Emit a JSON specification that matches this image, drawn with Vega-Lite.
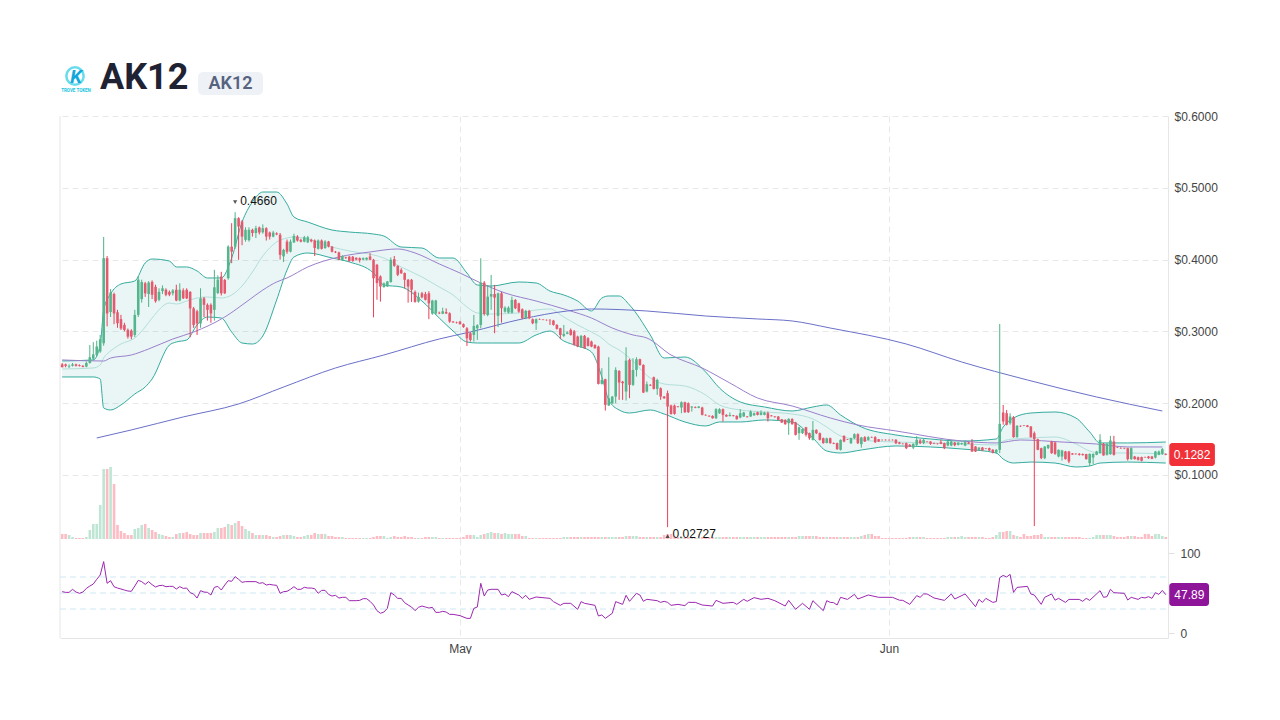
{
  "$schema": "https://vega.github.io/schema/vega-lite/v6.json",
  "background": "white",
  "padding": {"left": 59, "top": 50, "right": 0, "bottom": 0},
  "bounds": "flush",
  "spacing": 0,
  "config": {
    "view": {"stroke": null},
    "font": "Liberation Sans",
    "axis": {"gridColor": "#e8e8e8", "gridDash": [6, 4], "gridWidth": 1, "domainColor": "#e6e6e6", "labelColor": "#444444", "labelFontSize": 12, "labelFont": "Liberation Sans"}
  },
  "datasets": {
    "candles": [
      {"i":0,"o":0.254,"h":0.256,"l":0.25,"c":0.25,"v":5},{"i":1,"o":0.254,"h":0.255,"l":0.25,"c":0.252,"v":5},{"i":2,"o":0.251,"h":0.254,"l":0.249,"c":0.252,"v":4},{"i":3,"o":0.252,"h":0.256,"l":0.251,"c":0.254,"v":2},{"i":4,"o":0.254,"h":0.255,"l":0.251,"c":0.252,"v":1},{"i":5,"o":0.253,"h":0.254,"l":0.251,"c":0.252,"v":1},{"i":6,"o":0.252,"h":0.253,"l":0.25,"c":0.2505,"v":1},{"i":7,"o":0.251,"h":0.258,"l":0.25,"c":0.256,"v":2},{"i":8,"o":0.256,"h":0.281,"l":0.255,"c":0.264,"v":9},{"i":9,"o":0.262,"h":0.285,"l":0.26,"c":0.268,"v":15},
      {"i":10,"o":0.267,"h":0.287,"l":0.265,"c":0.279,"v":15},{"i":11,"o":0.272,"h":0.295,"l":0.27,"c":0.289,"v":34},{"i":12,"o":0.2834,"h":0.4315,"l":0.28,"c":0.402,"v":70},{"i":13,"o":0.402,"h":0.405,"l":0.307,"c":0.325,"v":70},{"i":14,"o":0.327,"h":0.359,"l":0.32,"c":0.354,"v":72},{"i":15,"o":0.352,"h":0.354,"l":0.31,"c":0.325,"v":55},{"i":16,"o":0.3266,"h":0.33,"l":0.305,"c":0.3113,"v":14},{"i":17,"o":0.317,"h":0.323,"l":0.302,"c":0.304,"v":8},{"i":18,"o":0.309,"h":0.312,"l":0.3,"c":0.302,"v":6},{"i":19,"o":0.302,"h":0.304,"l":0.29,"c":0.2927,"v":4},
      {"i":20,"o":0.3011,"h":0.303,"l":0.289,"c":0.2927,"v":4},{"i":21,"o":0.295,"h":0.33,"l":0.292,"c":0.323,"v":10},{"i":22,"o":0.323,"h":0.377,"l":0.32,"c":0.372,"v":11},{"i":23,"o":0.345,"h":0.372,"l":0.34,"c":0.3687,"v":14},{"i":24,"o":0.367,"h":0.369,"l":0.348,"c":0.353,"v":15},{"i":25,"o":0.352,"h":0.37,"l":0.334,"c":0.368,"v":11},{"i":26,"o":0.369,"h":0.371,"l":0.345,"c":0.351,"v":9},{"i":27,"o":0.362,"h":0.365,"l":0.34,"c":0.342,"v":7},{"i":28,"o":0.344,"h":0.36,"l":0.342,"c":0.355,"v":5},{"i":29,"o":0.356,"h":0.364,"l":0.352,"c":0.36,"v":4},
      {"i":30,"o":0.358,"h":0.36,"l":0.349,"c":0.351,"v":3},{"i":31,"o":0.355,"h":0.357,"l":0.349,"c":0.351,"v":2},{"i":32,"o":0.353,"h":0.359,"l":0.35,"c":0.357,"v":2},{"i":33,"o":0.358,"h":0.365,"l":0.342,"c":0.343,"v":5},{"i":34,"o":0.343,"h":0.367,"l":0.342,"c":0.358,"v":6},{"i":35,"o":0.357,"h":0.36,"l":0.345,"c":0.346,"v":6},{"i":36,"o":0.358,"h":0.36,"l":0.345,"c":0.346,"v":7},{"i":37,"o":0.355,"h":0.356,"l":0.2918,"c":0.332,"v":5},{"i":38,"o":0.332,"h":0.334,"l":0.305,"c":0.309,"v":4},{"i":39,"o":0.328,"h":0.33,"l":0.295,"c":0.311,"v":4},
      {"i":40,"o":0.311,"h":0.36,"l":0.305,"c":0.346,"v":6},{"i":41,"o":0.346,"h":0.348,"l":0.32,"c":0.337,"v":6},{"i":42,"o":0.337,"h":0.339,"l":0.315,"c":0.33,"v":6},{"i":43,"o":0.337,"h":0.339,"l":0.312,"c":0.325,"v":6},{"i":44,"o":0.33,"h":0.3858,"l":0.315,"c":0.3614,"v":7},{"i":45,"o":0.3534,"h":0.378,"l":0.352,"c":0.372,"v":11},{"i":46,"o":0.3765,"h":0.383,"l":0.35,"c":0.353,"v":11},{"i":47,"o":0.3716,"h":0.373,"l":0.352,"c":0.353,"v":12},{"i":48,"o":0.374,"h":0.42,"l":0.372,"c":0.418,"v":15},{"i":49,"o":0.418,"h":0.4507,"l":0.395,"c":0.411,"v":14},
      {"i":50,"o":0.418,"h":0.466,"l":0.415,"c":0.4577,"v":16},{"i":51,"o":0.4577,"h":0.459,"l":0.3997,"c":0.446,"v":18},{"i":52,"o":0.453,"h":0.455,"l":0.42,"c":0.432,"v":13},{"i":53,"o":0.4275,"h":0.445,"l":0.425,"c":0.4415,"v":10},{"i":54,"o":0.427,"h":0.445,"l":0.425,"c":0.4415,"v":8},{"i":55,"o":0.4415,"h":0.443,"l":0.432,"c":0.437,"v":6},{"i":56,"o":0.437,"h":0.447,"l":0.43,"c":0.4437,"v":4},{"i":57,"o":0.4447,"h":0.446,"l":0.435,"c":0.4377,"v":4},{"i":58,"o":0.438,"h":0.449,"l":0.436,"c":0.4437,"v":4},{"i":59,"o":0.4437,"h":0.445,"l":0.4265,"c":0.432,"v":4},
      {"i":60,"o":0.4377,"h":0.439,"l":0.428,"c":0.432,"v":3},{"i":61,"o":0.432,"h":0.44,"l":0.431,"c":0.4377,"v":2},{"i":62,"o":0.4365,"h":0.438,"l":0.434,"c":0.435,"v":2},{"i":63,"o":0.4345,"h":0.437,"l":0.4,"c":0.4066,"v":3},{"i":64,"o":0.4045,"h":0.415,"l":0.3965,"c":0.4135,"v":4},{"i":65,"o":0.425,"h":0.428,"l":0.408,"c":0.411,"v":4},{"i":66,"o":0.411,"h":0.428,"l":0.41,"c":0.425,"v":4},{"i":67,"o":0.424,"h":0.436,"l":0.423,"c":0.433,"v":3},{"i":68,"o":0.432,"h":0.434,"l":0.425,"c":0.4265,"v":2},{"i":69,"o":0.4275,"h":0.429,"l":0.424,"c":0.425,"v":2},
      {"i":70,"o":0.425,"h":0.433,"l":0.424,"c":0.431,"v":3},{"i":71,"o":0.424,"h":0.433,"l":0.423,"c":0.431,"v":4},{"i":72,"o":0.4275,"h":0.429,"l":0.424,"c":0.4255,"v":4},{"i":73,"o":0.4266,"h":0.428,"l":0.405,"c":0.416,"v":6},{"i":74,"o":0.415,"h":0.428,"l":0.414,"c":0.4266,"v":5},{"i":75,"o":0.4266,"h":0.428,"l":0.414,"c":0.415,"v":5},{"i":76,"o":0.416,"h":0.427,"l":0.415,"c":0.4252,"v":5},{"i":77,"o":0.4252,"h":0.426,"l":0.417,"c":0.418,"v":3},{"i":78,"o":0.418,"h":0.419,"l":0.41,"c":0.411,"v":3},{"i":79,"o":0.411,"h":0.412,"l":0.409,"c":0.41,"v":2},
      {"i":80,"o":0.41,"h":0.411,"l":0.399,"c":0.4005,"v":2},{"i":81,"o":0.3997,"h":0.406,"l":0.398,"c":0.405,"v":2},{"i":82,"o":0.403,"h":0.404,"l":0.401,"c":0.402,"v":1},{"i":83,"o":0.404,"h":0.405,"l":0.397,"c":0.398,"v":1},{"i":84,"o":0.404,"h":0.405,"l":0.397,"c":0.398,"v":1},{"i":85,"o":0.4025,"h":0.403,"l":0.399,"c":0.4,"v":1},{"i":86,"o":0.402,"h":0.403,"l":0.396,"c":0.399,"v":1},{"i":87,"o":0.4,"h":0.403,"l":0.399,"c":0.402,"v":1},{"i":88,"o":0.4,"h":0.403,"l":0.399,"c":0.4025,"v":1},{"i":89,"o":0.4043,"h":0.409,"l":0.399,"c":0.3997,"v":1},
      {"i":90,"o":0.3997,"h":0.401,"l":0.3196,"c":0.374,"v":2},{"i":91,"o":0.3927,"h":0.394,"l":0.344,"c":0.3672,"v":3},{"i":92,"o":0.3765,"h":0.378,"l":0.3414,"c":0.3625,"v":3},{"i":93,"o":0.3616,"h":0.368,"l":0.361,"c":0.367,"v":3},{"i":94,"o":0.3625,"h":0.37,"l":0.362,"c":0.3695,"v":1},{"i":95,"o":0.3686,"h":0.403,"l":0.368,"c":0.3997,"v":2},{"i":96,"o":0.4006,"h":0.405,"l":0.39,"c":0.3913,"v":3},{"i":97,"o":0.3913,"h":0.392,"l":0.377,"c":0.3788,"v":2},{"i":98,"o":0.3857,"h":0.388,"l":0.38,"c":0.381,"v":2},{"i":99,"o":0.3812,"h":0.382,"l":0.36,"c":0.3718,"v":3},
      {"i":100,"o":0.3718,"h":0.373,"l":0.34,"c":0.3625,"v":2},{"i":101,"o":0.3718,"h":0.373,"l":0.341,"c":0.358,"v":2},{"i":102,"o":0.355,"h":0.357,"l":0.34,"c":0.341,"v":1},{"i":103,"o":0.3414,"h":0.354,"l":0.34,"c":0.348,"v":1},{"i":104,"o":0.353,"h":0.355,"l":0.346,"c":0.3475,"v":1},{"i":105,"o":0.352,"h":0.355,"l":0.343,"c":0.344,"v":2},{"i":106,"o":0.353,"h":0.356,"l":0.317,"c":0.339,"v":2},{"i":107,"o":0.3247,"h":0.344,"l":0.323,"c":0.343,"v":2},{"i":108,"o":0.325,"h":0.344,"l":0.323,"c":0.343,"v":2},{"i":109,"o":0.326,"h":0.3275,"l":0.324,"c":0.325,"v":1},
      {"i":110,"o":0.3245,"h":0.333,"l":0.324,"c":0.328,"v":1},{"i":111,"o":0.327,"h":0.332,"l":0.324,"c":0.325,"v":1},{"i":112,"o":0.3252,"h":0.3265,"l":0.312,"c":0.3136,"v":1},{"i":113,"o":0.3136,"h":0.3145,"l":0.312,"c":0.3125,"v":1},{"i":114,"o":0.3125,"h":0.3135,"l":0.311,"c":0.312,"v":1},{"i":115,"o":0.3136,"h":0.3145,"l":0.3095,"c":0.31,"v":1},{"i":116,"o":0.31,"h":0.311,"l":0.305,"c":0.306,"v":2},{"i":117,"o":0.3043,"h":0.306,"l":0.2797,"c":0.2904,"v":4},{"i":118,"o":0.2974,"h":0.299,"l":0.2858,"c":0.2881,"v":4},{"i":119,"o":0.2951,"h":0.3229,"l":0.2858,"c":0.3076,"v":4},
      {"i":120,"o":0.3043,"h":0.31,"l":0.2881,"c":0.3085,"v":2},{"i":121,"o":0.309,"h":0.4018,"l":0.3043,"c":0.3679,"v":4},{"i":122,"o":0.3679,"h":0.37,"l":0.322,"c":0.3243,"v":5},{"i":123,"o":0.3229,"h":0.3647,"l":0.321,"c":0.3484,"v":6},{"i":124,"o":0.3484,"h":0.3786,"l":0.33,"c":0.352,"v":7},{"i":125,"o":0.352,"h":0.3647,"l":0.2974,"c":0.347,"v":6},{"i":126,"o":0.3215,"h":0.354,"l":0.306,"c":0.353,"v":6},{"i":127,"o":0.353,"h":0.355,"l":0.3122,"c":0.3322,"v":5},{"i":128,"o":0.3275,"h":0.335,"l":0.326,"c":0.333,"v":6},{"i":129,"o":0.3262,"h":0.335,"l":0.325,"c":0.333,"v":5},
      {"i":130,"o":0.326,"h":0.3484,"l":0.325,"c":0.3438,"v":5},{"i":131,"o":0.3438,"h":0.345,"l":0.331,"c":0.3322,"v":5},{"i":132,"o":0.339,"h":0.34,"l":0.326,"c":0.3275,"v":5},{"i":133,"o":0.3308,"h":0.332,"l":0.317,"c":0.3183,"v":3},{"i":134,"o":0.3183,"h":0.33,"l":0.317,"c":0.3285,"v":3},{"i":135,"o":0.3285,"h":0.33,"l":0.317,"c":0.3183,"v":1},{"i":136,"o":0.3169,"h":0.318,"l":0.31,"c":0.3113,"v":1},{"i":137,"o":0.3113,"h":0.318,"l":0.302,"c":0.3169,"v":1},{"i":138,"o":0.317,"h":0.318,"l":0.316,"c":0.3165,"v":1},{"i":139,"o":0.3165,"h":0.317,"l":0.3155,"c":0.316,"v":1},
      {"i":140,"o":0.316,"h":0.3165,"l":0.315,"c":0.3155,"v":1},{"i":141,"o":0.316,"h":0.317,"l":0.309,"c":0.3155,"v":1},{"i":142,"o":0.315,"h":0.316,"l":0.308,"c":0.309,"v":1},{"i":143,"o":0.309,"h":0.31,"l":0.3025,"c":0.3035,"v":1},{"i":144,"o":0.3043,"h":0.305,"l":0.289,"c":0.295,"v":1},{"i":145,"o":0.2937,"h":0.309,"l":0.292,"c":0.2965,"v":2},{"i":146,"o":0.2965,"h":0.3,"l":0.296,"c":0.2985,"v":2},{"i":147,"o":0.302,"h":0.304,"l":0.294,"c":0.295,"v":2},{"i":148,"o":0.3,"h":0.302,"l":0.28,"c":0.2811,"v":2},{"i":149,"o":0.2928,"h":0.294,"l":0.278,"c":0.2788,"v":2},
      {"i":150,"o":0.2779,"h":0.295,"l":0.277,"c":0.2937,"v":2},{"i":151,"o":0.2937,"h":0.295,"l":0.276,"c":0.2765,"v":2},{"i":152,"o":0.2904,"h":0.292,"l":0.279,"c":0.2797,"v":2},{"i":153,"o":0.2858,"h":0.287,"l":0.278,"c":0.2788,"v":2},{"i":154,"o":0.2811,"h":0.282,"l":0.276,"c":0.2765,"v":2},{"i":155,"o":0.2788,"h":0.28,"l":0.226,"c":0.2269,"v":2},{"i":156,"o":0.2269,"h":0.2487,"l":0.226,"c":0.2324,"v":2},{"i":157,"o":0.2333,"h":0.234,"l":0.1897,"c":0.1976,"v":2},{"i":158,"o":0.1967,"h":0.264,"l":0.196,"c":0.2069,"v":2},{"i":159,"o":0.1999,"h":0.21,"l":0.199,"c":0.2092,"v":2},
      {"i":160,"o":0.2092,"h":0.25,"l":0.2,"c":0.2463,"v":2},{"i":161,"o":0.2449,"h":0.246,"l":0.2046,"c":0.2287,"v":2},{"i":162,"o":0.23,"h":0.231,"l":0.2046,"c":0.2278,"v":2},{"i":163,"o":0.2162,"h":0.2779,"l":0.2037,"c":0.2593,"v":3},{"i":164,"o":0.2603,"h":0.262,"l":0.2069,"c":0.2255,"v":3},{"i":165,"o":0.2255,"h":0.2626,"l":0.224,"c":0.2463,"v":3},{"i":166,"o":0.2463,"h":0.264,"l":0.2371,"c":0.2612,"v":3},{"i":167,"o":0.2612,"h":0.262,"l":0.252,"c":0.2533,"v":2},{"i":168,"o":0.2533,"h":0.254,"l":0.214,"c":0.2148,"v":2},{"i":169,"o":0.2162,"h":0.2302,"l":0.215,"c":0.2264,"v":2},
      {"i":170,"o":0.2255,"h":0.2265,"l":0.224,"c":0.2245,"v":2},{"i":171,"o":0.2361,"h":0.237,"l":0.219,"c":0.2199,"v":2},{"i":172,"o":0.2199,"h":0.234,"l":0.2115,"c":0.2324,"v":2},{"i":173,"o":0.2208,"h":0.222,"l":0.2046,"c":0.2092,"v":2},{"i":174,"o":0.2092,"h":0.21,"l":0.206,"c":0.2069,"v":4},{"i":175,"o":0.2139,"h":0.2176,"l":0.02727,"c":0.1953,"v":5},{"i":176,"o":0.1967,"h":0.198,"l":0.184,"c":0.185,"v":5},{"i":177,"o":0.1967,"h":0.198,"l":0.184,"c":0.1851,"v":3},{"i":178,"o":0.1955,"h":0.196,"l":0.194,"c":0.1948,"v":2},{"i":179,"o":0.1939,"h":0.2025,"l":0.186,"c":0.2013,"v":2},
      {"i":180,"o":0.2013,"h":0.202,"l":0.1865,"c":0.1874,"v":2},{"i":181,"o":0.2,"h":0.201,"l":0.1865,"c":0.1874,"v":2},{"i":182,"o":0.1939,"h":0.196,"l":0.1883,"c":0.1953,"v":2},{"i":183,"o":0.1945,"h":0.1955,"l":0.193,"c":0.1935,"v":1},{"i":184,"o":0.1935,"h":0.196,"l":0.193,"c":0.1953,"v":1},{"i":185,"o":0.1939,"h":0.195,"l":0.183,"c":0.1837,"v":2},{"i":186,"o":0.1837,"h":0.1845,"l":0.1825,"c":0.183,"v":2},{"i":187,"o":0.1825,"h":0.183,"l":0.181,"c":0.1815,"v":2},{"i":188,"o":0.1823,"h":0.183,"l":0.1785,"c":0.179,"v":2},{"i":189,"o":0.179,"h":0.193,"l":0.178,"c":0.1916,"v":2},
      {"i":190,"o":0.186,"h":0.193,"l":0.185,"c":0.1916,"v":2},{"i":191,"o":0.1916,"h":0.1925,"l":0.1744,"c":0.1837,"v":2},{"i":192,"o":0.1837,"h":0.1845,"l":0.181,"c":0.1814,"v":2},{"i":193,"o":0.182,"h":0.187,"l":0.1815,"c":0.1835,"v":2},{"i":194,"o":0.183,"h":0.1835,"l":0.1815,"c":0.182,"v":2},{"i":195,"o":0.1823,"h":0.183,"l":0.177,"c":0.1777,"v":2},{"i":196,"o":0.18,"h":0.1916,"l":0.179,"c":0.186,"v":2},{"i":197,"o":0.1814,"h":0.188,"l":0.181,"c":0.187,"v":2},{"i":198,"o":0.1814,"h":0.182,"l":0.18,"c":0.1805,"v":2},{"i":199,"o":0.1814,"h":0.19,"l":0.181,"c":0.1883,"v":2},
      {"i":200,"o":0.183,"h":0.187,"l":0.1825,"c":0.186,"v":2},{"i":201,"o":0.1874,"h":0.188,"l":0.183,"c":0.1837,"v":2},{"i":202,"o":0.1837,"h":0.19,"l":0.183,"c":0.187,"v":2},{"i":203,"o":0.1837,"h":0.188,"l":0.183,"c":0.187,"v":2},{"i":204,"o":0.186,"h":0.1883,"l":0.1744,"c":0.179,"v":2},{"i":205,"o":0.1828,"h":0.1835,"l":0.1815,"c":0.1818,"v":2},{"i":206,"o":0.1815,"h":0.182,"l":0.18,"c":0.1805,"v":2},{"i":207,"o":0.1814,"h":0.182,"l":0.176,"c":0.1767,"v":2},{"i":208,"o":0.1775,"h":0.178,"l":0.1725,"c":0.173,"v":2},{"i":209,"o":0.1767,"h":0.1775,"l":0.17,"c":0.1707,"v":2},
      {"i":210,"o":0.1721,"h":0.179,"l":0.1559,"c":0.1781,"v":2},{"i":211,"o":0.178,"h":0.179,"l":0.17,"c":0.1707,"v":2},{"i":212,"o":0.173,"h":0.174,"l":0.155,"c":0.1559,"v":2},{"i":213,"o":0.1582,"h":0.1675,"l":0.1489,"c":0.1665,"v":3},{"i":214,"o":0.1582,"h":0.165,"l":0.157,"c":0.1642,"v":3},{"i":215,"o":0.1665,"h":0.167,"l":0.1535,"c":0.1559,"v":3},{"i":216,"o":0.1582,"h":0.159,"l":0.149,"c":0.1512,"v":3},{"i":217,"o":0.1489,"h":0.1753,"l":0.148,"c":0.1628,"v":3},{"i":218,"o":0.1628,"h":0.1635,"l":0.157,"c":0.1582,"v":3},{"i":219,"o":0.1582,"h":0.159,"l":0.148,"c":0.1489,"v":2},
      {"i":220,"o":0.1512,"h":0.152,"l":0.1435,"c":0.1443,"v":2},{"i":221,"o":0.1445,"h":0.152,"l":0.144,"c":0.151,"v":2},{"i":222,"o":0.1512,"h":0.152,"l":0.1435,"c":0.1443,"v":2},{"i":223,"o":0.1445,"h":0.1452,"l":0.143,"c":0.1435,"v":2},{"i":224,"o":0.1443,"h":0.145,"l":0.135,"c":0.1359,"v":2},{"i":225,"o":0.135,"h":0.1495,"l":0.134,"c":0.1489,"v":2},{"i":226,"o":0.1545,"h":0.155,"l":0.1455,"c":0.1466,"v":2},{"i":227,"o":0.1498,"h":0.15,"l":0.1488,"c":0.1492,"v":2},{"i":228,"o":0.1443,"h":0.152,"l":0.143,"c":0.1512,"v":2},{"i":229,"o":0.1512,"h":0.158,"l":0.15,"c":0.1568,"v":2},
      {"i":230,"o":0.1568,"h":0.158,"l":0.143,"c":0.1443,"v":2},{"i":231,"o":0.1429,"h":0.153,"l":0.138,"c":0.1522,"v":3},{"i":232,"o":0.1526,"h":0.154,"l":0.146,"c":0.1466,"v":4},{"i":233,"o":0.1489,"h":0.154,"l":0.148,"c":0.1526,"v":5},{"i":234,"o":0.1525,"h":0.1535,"l":0.1515,"c":0.152,"v":5},{"i":235,"o":0.1526,"h":0.154,"l":0.1445,"c":0.1457,"v":3},{"i":236,"o":0.1498,"h":0.15,"l":0.146,"c":0.1466,"v":3},{"i":237,"o":0.1489,"h":0.1495,"l":0.148,"c":0.1485,"v":1},{"i":238,"o":0.149,"h":0.1495,"l":0.148,"c":0.1484,"v":1},{"i":239,"o":0.1488,"h":0.1495,"l":0.148,"c":0.1483,"v":1},
      {"i":240,"o":0.149,"h":0.1495,"l":0.148,"c":0.1484,"v":1},{"i":241,"o":0.1489,"h":0.15,"l":0.143,"c":0.1443,"v":1},{"i":242,"o":0.1452,"h":0.146,"l":0.1428,"c":0.1434,"v":1},{"i":243,"o":0.1436,"h":0.144,"l":0.1425,"c":0.143,"v":1},{"i":244,"o":0.1443,"h":0.145,"l":0.136,"c":0.1373,"v":1},{"i":245,"o":0.142,"h":0.143,"l":0.139,"c":0.1396,"v":2},{"i":246,"o":0.1382,"h":0.144,"l":0.136,"c":0.1434,"v":2},{"i":247,"o":0.142,"h":0.154,"l":0.14,"c":0.1489,"v":2},{"i":248,"o":0.148,"h":0.15,"l":0.143,"c":0.1443,"v":2},{"i":249,"o":0.1443,"h":0.15,"l":0.143,"c":0.1489,"v":2},
      {"i":250,"o":0.1466,"h":0.147,"l":0.1455,"c":0.146,"v":1},{"i":251,"o":0.1466,"h":0.147,"l":0.142,"c":0.1434,"v":1},{"i":252,"o":0.1443,"h":0.145,"l":0.143,"c":0.1436,"v":1},{"i":253,"o":0.1436,"h":0.144,"l":0.1425,"c":0.143,"v":1},{"i":254,"o":0.1457,"h":0.149,"l":0.143,"c":0.1434,"v":1},{"i":255,"o":0.1443,"h":0.145,"l":0.136,"c":0.1373,"v":1},{"i":256,"o":0.141,"h":0.1475,"l":0.14,"c":0.1466,"v":2},{"i":257,"o":0.141,"h":0.1475,"l":0.14,"c":0.1466,"v":2},{"i":258,"o":0.1452,"h":0.146,"l":0.14,"c":0.1415,"v":2},{"i":259,"o":0.142,"h":0.1455,"l":0.141,"c":0.1452,"v":2},
      {"i":260,"o":0.1429,"h":0.145,"l":0.142,"c":0.1443,"v":3},{"i":261,"o":0.141,"h":0.148,"l":0.14,"c":0.1457,"v":2},{"i":262,"o":0.1452,"h":0.146,"l":0.143,"c":0.1434,"v":2},{"i":263,"o":0.1443,"h":0.15,"l":0.132,"c":0.1327,"v":2},{"i":264,"o":0.1396,"h":0.14,"l":0.132,"c":0.1327,"v":2},{"i":265,"o":0.135,"h":0.1385,"l":0.134,"c":0.1382,"v":2},{"i":266,"o":0.1382,"h":0.139,"l":0.134,"c":0.1341,"v":2},{"i":267,"o":0.137,"h":0.1375,"l":0.136,"c":0.1365,"v":1},{"i":268,"o":0.1373,"h":0.138,"l":0.1335,"c":0.1341,"v":1},{"i":269,"o":0.135,"h":0.136,"l":0.13,"c":0.1313,"v":2},
      {"i":270,"o":0.1313,"h":0.136,"l":0.1295,"c":0.135,"v":4},{"i":271,"o":0.135,"h":0.3104,"l":0.1304,"c":0.1712,"v":7},{"i":272,"o":0.187,"h":0.1975,"l":0.17,"c":0.1745,"v":7},{"i":273,"o":0.186,"h":0.1905,"l":0.169,"c":0.17,"v":8},{"i":274,"o":0.1721,"h":0.186,"l":0.17,"c":0.1814,"v":8},{"i":275,"o":0.1805,"h":0.182,"l":0.152,"c":0.1526,"v":4},{"i":276,"o":0.1526,"h":0.1695,"l":0.152,"c":0.1684,"v":3},{"i":277,"o":0.1684,"h":0.169,"l":0.167,"c":0.1676,"v":2},{"i":278,"o":0.169,"h":0.1695,"l":0.168,"c":0.1685,"v":5},{"i":279,"o":0.169,"h":0.1695,"l":0.1665,"c":0.167,"v":3},
      {"i":280,"o":0.1675,"h":0.168,"l":0.152,"c":0.1526,"v":3},{"i":281,"o":0.1582,"h":0.1605,"l":0.0288,"c":0.1498,"v":4},{"i":282,"o":0.1498,"h":0.1505,"l":0.1345,"c":0.135,"v":4},{"i":283,"o":0.1373,"h":0.138,"l":0.122,"c":0.1234,"v":5},{"i":284,"o":0.1234,"h":0.14,"l":0.122,"c":0.1396,"v":2},{"i":285,"o":0.1373,"h":0.142,"l":0.136,"c":0.142,"v":2},{"i":286,"o":0.1466,"h":0.1475,"l":0.1295,"c":0.1304,"v":2},{"i":287,"o":0.1452,"h":0.146,"l":0.128,"c":0.1294,"v":2},{"i":288,"o":0.1257,"h":0.1355,"l":0.1245,"c":0.135,"v":2},{"i":289,"o":0.1257,"h":0.135,"l":0.12,"c":0.1341,"v":2},
      {"i":290,"o":0.1327,"h":0.1335,"l":0.1215,"c":0.122,"v":2},{"i":291,"o":0.1327,"h":0.1335,"l":0.1165,"c":0.1188,"v":2},{"i":292,"o":0.13,"h":0.1305,"l":0.128,"c":0.1285,"v":2},{"i":293,"o":0.1296,"h":0.13,"l":0.1285,"c":0.1288,"v":2},{"i":294,"o":0.1294,"h":0.1305,"l":0.127,"c":0.128,"v":2},{"i":295,"o":0.129,"h":0.13,"l":0.127,"c":0.1276,"v":1},{"i":296,"o":0.129,"h":0.1295,"l":0.1215,"c":0.122,"v":1},{"i":297,"o":0.1165,"h":0.13,"l":0.1125,"c":0.1294,"v":1},{"i":298,"o":0.1243,"h":0.13,"l":0.115,"c":0.1294,"v":2},{"i":299,"o":0.128,"h":0.1335,"l":0.1275,"c":0.1327,"v":4},
      {"i":300,"o":0.1304,"h":0.1568,"l":0.13,"c":0.1489,"v":4},{"i":301,"o":0.1434,"h":0.1445,"l":0.127,"c":0.1271,"v":4},{"i":302,"o":0.128,"h":0.144,"l":0.127,"c":0.1434,"v":4},{"i":303,"o":0.129,"h":0.1545,"l":0.128,"c":0.148,"v":4},{"i":304,"o":0.1466,"h":0.1545,"l":0.127,"c":0.128,"v":3},{"i":305,"o":0.1385,"h":0.139,"l":0.1375,"c":0.138,"v":2},{"i":306,"o":0.1376,"h":0.1385,"l":0.1365,"c":0.137,"v":2},{"i":307,"o":0.1373,"h":0.138,"l":0.136,"c":0.1368,"v":2},{"i":308,"o":0.1373,"h":0.138,"l":0.12,"c":0.122,"v":3},{"i":309,"o":0.122,"h":0.1385,"l":0.121,"c":0.1373,"v":3},
      {"i":310,"o":0.1257,"h":0.1265,"l":0.1215,"c":0.122,"v":3},{"i":311,"o":0.1248,"h":0.1255,"l":0.12,"c":0.1211,"v":2},{"i":312,"o":0.1248,"h":0.1255,"l":0.119,"c":0.1197,"v":2},{"i":313,"o":0.1248,"h":0.1255,"l":0.124,"c":0.1243,"v":5},{"i":314,"o":0.1257,"h":0.1265,"l":0.1225,"c":0.1234,"v":5},{"i":315,"o":0.1257,"h":0.1265,"l":0.122,"c":0.1225,"v":3},{"i":316,"o":0.1243,"h":0.1335,"l":0.123,"c":0.1327,"v":5},{"i":317,"o":0.128,"h":0.134,"l":0.1275,"c":0.1327,"v":5},{"i":318,"o":0.1294,"h":0.1375,"l":0.128,"c":0.1359,"v":3},{"i":319,"o":0.1294,"h":0.13,"l":0.1275,"c":0.1282,"v":2}
    ],
    "bands": [
      {"i":0,"u":0.2588,"m":0.2476,"d":0.2365},{"i":9,"u":0.2602,"m":0.249,"d":0.2365},{"i":11,"u":0.281,"m":0.2532,"d":0.2337},{"i":12,"u":0.3298,"m":0.2629,"d":0.1933},{"i":14,"u":0.3521,"m":0.2727,"d":0.1905},{"i":17,"u":0.366,"m":0.2824,"d":0.1975},{"i":21,"u":0.3702,"m":0.2908,"d":0.2128},{"i":24,"u":0.3953,"m":0.3061,"d":0.2225},{"i":26,"u":0.4008,"m":0.3186,"d":0.2337},{"i":31,"u":0.398,"m":0.3395,"d":0.281},{"i":33,"u":0.3897,"m":0.3381,"d":0.2852},{"i":36,"u":0.3897,"m":0.3423,"d":0.288},{"i":39,"u":0.3841,"m":0.3465,"d":0.3089},{"i":42,"u":0.3744,"m":0.3479,"d":0.32},{"i":46,"u":0.3744,"m":0.3465,"d":0.3186},{"i":49,"u":0.4022,"m":0.3507,"d":0.2991},{"i":52,"u":0.4523,"m":0.3632,"d":0.2838},{"i":55,"u":0.4802,"m":0.3827,"d":0.2824},{"i":58,"u":0.4941,"m":0.405,"d":0.2936},{"i":62,"u":0.4941,"m":0.4245,"d":0.3437},{"i":65,"u":0.4774,"m":0.4301,"d":0.3855},{"i":67,"u":0.4593,"m":0.4315,"d":0.4036},{"i":71,"u":0.4523,"m":0.4287,"d":0.4092},{"i":78,"u":0.4412,"m":0.4175,"d":0.4022},{"i":83,"u":0.4384,"m":0.412,"d":0.3967},{"i":90,"u":0.4356,"m":0.4064,"d":0.3813},{"i":93,"u":0.4328,"m":0.4022,"d":0.3646},{"i":98,"u":0.4175,"m":0.3897,"d":0.3618},{"i":104,"u":0.4161,"m":0.3758,"d":0.3423},{"i":109,"u":0.4022,"m":0.3618,"d":0.3186},{"i":113,"u":0.4022,"m":0.3507,"d":0.3005},{"i":117,"u":0.3813,"m":0.334,"d":0.2852},{"i":120,"u":0.3646,"m":0.3256,"d":0.2838},{"i":124,"u":0.3632,"m":0.3242,"d":0.2838},{"i":132,"u":0.3688,"m":0.3256,"d":0.2838},{"i":137,"u":0.3674,"m":0.3298,"d":0.295},{"i":141,"u":0.3562,"m":0.3312,"d":0.3005},{"i":145,"u":0.3507,"m":0.32,"d":0.2866},{"i":149,"u":0.3423,"m":0.3089,"d":0.2797},{"i":153,"u":0.3284,"m":0.2991,"d":0.2713},{"i":156,"u":0.3465,"m":0.2908,"d":0.2365},{"i":158,"u":0.3493,"m":0.2824,"d":0.2044},{"i":161,"u":0.3493,"m":0.2741,"d":0.1905},{"i":164,"u":0.3367,"m":0.2629,"d":0.1863},{"i":170,"u":0.295,"m":0.2351,"d":0.1905},{"i":174,"u":0.2629,"m":0.2267,"d":0.1849},{"i":180,"u":0.2643,"m":0.2239,"d":0.1738},{"i":186,"u":0.2434,"m":0.2114,"d":0.1682},{"i":190,"u":0.2211,"m":0.1975,"d":0.1738},{"i":196,"u":0.2017,"m":0.1905,"d":0.1738},{"i":203,"u":0.1947,"m":0.1877,"d":0.1766},{"i":211,"u":0.1891,"m":0.1849,"d":0.1738},{"i":217,"u":0.1947,"m":0.178,"d":0.1515},{"i":221,"u":0.1975,"m":0.1668,"d":0.1334},{"i":225,"u":0.1836,"m":0.1543,"d":0.1306},{"i":231,"u":0.1668,"m":0.1487,"d":0.1348},{"i":241,"u":0.1557,"m":0.1459,"d":0.1404},{"i":251,"u":0.1501,"m":0.1446,"d":0.139},{"i":260,"u":0.1473,"m":0.1432,"d":0.1362},{"i":270,"u":0.1501,"m":0.1418,"d":0.1306},{"i":272,"u":0.1668,"m":0.1473,"d":0.1222},{"i":275,"u":0.1794,"m":0.1501,"d":0.1166},{"i":280,"u":0.1863,"m":0.1515,"d":0.118},{"i":287,"u":0.1877,"m":0.1529,"d":0.1166},{"i":293,"u":0.1794,"m":0.1432,"d":0.1111},{"i":297,"u":0.1599,"m":0.1334,"d":0.1125},{"i":300,"u":0.1446,"m":0.1306,"d":0.1166},{"i":308,"u":0.1446,"m":0.1306,"d":0.118},{"i":319,"u":0.1459,"m":0.1292,"d":0.1166}
    ],
    "ma50": [
      {"i":0,"v":0.2602},{"i":12,"v":0.2587},{"i":14,"v":0.2629},{"i":20,"v":0.2671},{"i":25,"v":0.2755},{"i":32,"v":0.2894},{"i":38,"v":0.2991},{"i":47,"v":0.32},{"i":54,"v":0.3437},{"i":58,"v":0.3576},{"i":62,"v":0.3688},{"i":65,"v":0.3744},{"i":71,"v":0.3897},{"i":80,"v":0.4036},{"i":89,"v":0.4106},{"i":97,"v":0.4148},{"i":102,"v":0.4092},{"i":109,"v":0.3939},{"i":115,"v":0.3813},{"i":121,"v":0.3674},{"i":128,"v":0.3535},{"i":137,"v":0.3423},{"i":146,"v":0.3298},{"i":153,"v":0.3186},{"i":159,"v":0.3047},{"i":165,"v":0.295},{"i":169,"v":0.2908},{"i":176,"v":0.2671},{"i":185,"v":0.249},{"i":193,"v":0.2281},{"i":201,"v":0.2072},{"i":211,"v":0.1961},{"i":222,"v":0.1794},{"i":230,"v":0.1696},{"i":241,"v":0.1613},{"i":260,"v":0.1473},{"i":270,"v":0.1446},{"i":277,"v":0.1487},{"i":289,"v":0.1459},{"i":299,"v":0.1431},{"i":308,"v":0.139},{"i":318,"v":0.139}
    ],
    "ma200": [
      {"i":10,"v":0.1515},{"i":20,"v":0.1627},{"i":35,"v":0.1808},{"i":51,"v":0.1989},{"i":64,"v":0.2225},{"i":79,"v":0.249},{"i":93,"v":0.2671},{"i":109,"v":0.2894},{"i":118,"v":0.2992},{"i":133,"v":0.3173},{"i":146,"v":0.3284},{"i":153,"v":0.3312},{"i":169,"v":0.3284},{"i":186,"v":0.3214},{"i":201,"v":0.3173},{"i":211,"v":0.3145},{"i":222,"v":0.3047},{"i":244,"v":0.2824},{"i":260,"v":0.2574},{"i":279,"v":0.2323},{"i":299,"v":0.2086},{"i":318,"v":0.1891}
    ],
    "rsi": [
      {"i":0,"r":51.7},{"i":1,"r":50.8},{"i":2,"r":50.8},{"i":3,"r":54.6},{"i":4,"r":51.2},{"i":5,"r":49.6},{"i":6,"r":51.2},{"i":7,"r":55.8},{"i":8,"r":58.7},{"i":9,"r":61.2},{"i":10,"r":67.1},{"i":11,"r":72.5},{"i":12,"r":89.2},{"i":13,"r":62.1},{"i":14,"r":65.4},{"i":15,"r":57.9},{"i":16,"r":56.2},{"i":17,"r":55},{"i":18,"r":53.7},{"i":19,"r":52.5},{"i":20,"r":52.1},{"i":21,"r":58.7},{"i":22,"r":65.8},{"i":23,"r":64.2},{"i":24,"r":60.8},{"i":25,"r":64.2},{"i":26,"r":60.4},{"i":27,"r":57.5},{"i":28,"r":59.2},{"i":29,"r":59.6},{"i":30,"r":57.9},{"i":31,"r":58.3},{"i":32,"r":58.3},{"i":33,"r":55},{"i":34,"r":57.9},{"i":35,"r":55.8},{"i":36,"r":56.2},{"i":37,"r":50.4},{"i":38,"r":48.7},{"i":39,"r":43.7},{"i":40,"r":52.9},{"i":41,"r":51.2},{"i":42,"r":50.8},{"i":43,"r":47.5},{"i":44,"r":57.1},{"i":45,"r":58.3},{"i":46,"r":53.7},{"i":47,"r":60},{"i":48,"r":65.4},{"i":49,"r":64.6},{"i":50,"r":70.4},{"i":51,"r":67.1},{"i":52,"r":63.3},{"i":53,"r":64.2},{"i":56,"r":64.2},{"i":57,"r":62.1},{"i":58,"r":62.9},{"i":59,"r":60},{"i":60,"r":60.8},{"i":61,"r":60},{"i":62,"r":59.6},{"i":63,"r":49.6},{"i":64,"r":51.7},{"i":65,"r":52.1},{"i":66,"r":54.6},{"i":67,"r":57.9},{"i":68,"r":54.6},{"i":69,"r":54.6},{"i":70,"r":57.1},{"i":71,"r":56.2},{"i":72,"r":56.2},{"i":73,"r":55.4},{"i":74,"r":49.6},{"i":75,"r":53.3},{"i":76,"r":53.3},{"i":77,"r":48.3},{"i":78,"r":46.2},{"i":79,"r":47.1},{"i":80,"r":43.7},{"i":81,"r":44.6},{"i":82,"r":44.6},{"i":83,"r":40.4},{"i":85,"r":40.4},{"i":86,"r":40.8},{"i":87,"r":42.9},{"i":88,"r":42.9},{"i":89,"r":39.6},{"i":90,"r":35},{"i":91,"r":27.9},{"i":92,"r":24.6},{"i":93,"r":26.2},{"i":94,"r":30.8},{"i":95,"r":50.4},{"i":96,"r":47.5},{"i":97,"r":43.3},{"i":98,"r":43.3},{"i":99,"r":37.9},{"i":100,"r":35},{"i":101,"r":32.5},{"i":102,"r":27.9},{"i":103,"r":32.1},{"i":104,"r":33.7},{"i":105,"r":32.5},{"i":106,"r":31.2},{"i":107,"r":32.1},{"i":108,"r":25.8},{"i":109,"r":25.8},{"i":110,"r":27.1},{"i":111,"r":26.2},{"i":112,"r":23.3},{"i":113,"r":23.3},{"i":115,"r":21.7},{"i":117,"r":18.3},{"i":118,"r":18.3},{"i":119,"r":30.8},{"i":120,"r":32.5},{"i":121,"r":62.1},{"i":122,"r":46.2},{"i":123,"r":53.7},{"i":124,"r":54.6},{"i":126,"r":54.6},{"i":127,"r":47.5},{"i":128,"r":48.7},{"i":129,"r":45.4},{"i":130,"r":51.7},{"i":132,"r":47.5},{"i":133,"r":43.3},{"i":134,"r":47.1},{"i":135,"r":42.1},{"i":137,"r":45},{"i":141,"r":43.3},{"i":142,"r":39.2},{"i":144,"r":34.6},{"i":145,"r":37.1},{"i":147,"r":37.1},{"i":149,"r":29.6},{"i":150,"r":39.2},{"i":151,"r":37.1},{"i":154,"r":34.6},{"i":155,"r":21.3},{"i":156,"r":22.5},{"i":157,"r":18.3},{"i":159,"r":24.6},{"i":160,"r":39.2},{"i":162,"r":35.8},{"i":163,"r":47.1},{"i":164,"r":39.6},{"i":166,"r":49.6},{"i":167,"r":47.5},{"i":168,"r":39.6},{"i":169,"r":42.1},{"i":172,"r":40.4},{"i":173,"r":38.3},{"i":174,"r":39.6},{"i":175,"r":38.3},{"i":176,"r":34.6},{"i":178,"r":35.8},{"i":180,"r":34.2},{"i":181,"r":38.3},{"i":183,"r":38.3},{"i":185,"r":35},{"i":188,"r":33.7},{"i":189,"r":40.8},{"i":191,"r":37.1},{"i":194,"r":38.3},{"i":195,"r":35.8},{"i":197,"r":42.1},{"i":198,"r":39.6},{"i":200,"r":44.2},{"i":202,"r":42.1},{"i":204,"r":43.3},{"i":206,"r":40.4},{"i":209,"r":33.7},{"i":210,"r":40.8},{"i":212,"r":29.6},{"i":214,"r":37.1},{"i":216,"r":29.6},{"i":217,"r":40.4},{"i":220,"r":27.9},{"i":221,"r":40.4},{"i":222,"r":38.3},{"i":223,"r":37.9},{"i":224,"r":35},{"i":225,"r":44.6},{"i":227,"r":42},{"i":229,"r":48.3},{"i":230,"r":42.5},{"i":233,"r":47.5},{"i":236,"r":44.6},{"i":240,"r":44.6},{"i":242,"r":41},{"i":243,"r":40.8},{"i":245,"r":35.8},{"i":247,"r":46.7},{"i":248,"r":44.6},{"i":249,"r":48.8},{"i":250,"r":48.8},{"i":252,"r":43.8},{"i":255,"r":40.8},{"i":257,"r":48.8},{"i":258,"r":42.5},{"i":261,"r":48.8},{"i":264,"r":32.9},{"i":265,"r":42},{"i":266,"r":38.3},{"i":267,"r":43.3},{"i":269,"r":38.3},{"i":270,"r":39.2},{"i":271,"r":69.2},{"i":272,"r":72},{"i":273,"r":70},{"i":274,"r":73.3},{"i":275,"r":50.8},{"i":276,"r":57},{"i":279,"r":58.3},{"i":280,"r":48.8},{"i":281,"r":47.5},{"i":283,"r":35.8},{"i":284,"r":44.6},{"i":286,"r":48.8},{"i":287,"r":41},{"i":288,"r":43.3},{"i":290,"r":38.3},{"i":291,"r":42},{"i":294,"r":42},{"i":295,"r":39.6},{"i":296,"r":43.3},{"i":297,"r":40.8},{"i":300,"r":52.9},{"i":301,"r":44.6},{"i":302,"r":45.4},{"i":303,"r":54.6},{"i":304,"r":50.4},{"i":307,"r":49.6},{"i":308,"r":41.2},{"i":309,"r":44.6},{"i":311,"r":42},{"i":312,"r":44.6},{"i":313,"r":43.8},{"i":314,"r":45.4},{"i":315,"r":43.3},{"i":316,"r":50.4},{"i":317,"r":48.3},{"i":318,"r":53.3},{"i":319,"r":47.89}
    ]
  },
  "vconcat": [
    {
      "width": 1108,
      "height": 66,
      "encoding": {
        "x": {"datum": 0, "type": "quantitative", "scale": {"domain": [0, 1108], "nice": false, "zero": false}, "axis": null},
        "y": {"datum": 0, "type": "quantitative", "scale": {"domain": [0, 66], "nice": false, "zero": false}, "axis": null}
      },
      "layer": [
        {
          "data": {"values": [{"part": "logo"}]},
          "mark": {"type": "point", "shape": "circle", "filled": false, "size": 300, "stroke": "#29cde4", "strokeWidth": 2.5},
          "encoding": {"x": {"datum": 15, "type": "quantitative"}, "y": {"datum": 40, "type": "quantitative"}}
        },
        {
          "data": {"values": [{"label": "K"}]},
          "mark": {"type": "text", "font": "Roboto", "fontWeight": 700, "fontStyle": "italic", "fontSize": 19, "color": "#12a8dc", "baseline": "middle", "align": "center"},
          "encoding": {"x": {"datum": 16, "type": "quantitative"}, "y": {"datum": 39, "type": "quantitative"}, "text": {"field": "label"}}
        },
        {
          "data": {"values": [{"label": "TROVE TOKEN"}]},
          "mark": {"type": "text", "font": "Roboto", "fontWeight": 700, "fontSize": 4.5, "color": "#18c5e0", "baseline": "middle", "align": "center"},
          "encoding": {"x": {"datum": 16, "type": "quantitative"}, "y": {"datum": 25.5, "type": "quantitative"}, "text": {"field": "label"}}
        },
        {
          "data": {"values": [{"label": "AK12"}]},
          "mark": {"type": "text", "font": "Roboto", "fontWeight": 700, "fontSize": 36, "color": "#1f2233", "baseline": "middle", "align": "left"},
          "encoding": {"x": {"datum": 40, "type": "quantitative"}, "y": {"datum": 38, "type": "quantitative"}, "text": {"field": "label"}}
        },
        {
          "data": {"values": [{"part": "badge"}]},
          "mark": {"type": "rect", "color": "#eef1f6", "cornerRadius": 5},
          "encoding": {
            "x": {"datum": 138, "type": "quantitative"}, "x2": {"datum": 203},
            "y": {"datum": 44, "type": "quantitative"}, "y2": {"datum": 21}
          }
        },
        {
          "data": {"values": [{"label": "AK12"}]},
          "mark": {"type": "text", "font": "Roboto", "fontWeight": 600, "fontSize": 18, "color": "#56627e", "baseline": "middle", "align": "center"},
          "encoding": {"x": {"datum": 170.5, "type": "quantitative"}, "y": {"datum": 32.5, "type": "quantitative"}, "text": {"field": "label"}}
        }
      ]
    },
    {
      "width": 1108,
      "height": 423,
      "encoding": {
        "x": {
          "type": "quantitative", "title": null,
          "scale": {"domain": [-0.62, 319.64], "nice": false, "zero": false, "padding": 0},
          "axis": {"values": [115, 239], "grid": true, "labels": false, "ticks": false, "domain": false, "title": null, "zindex": 0}
        }
      },
      "resolve": {"scale": {"y": "independent"}},
      "layer": [
        {
          "data": {"name": "candles"},
          "mark": {"type": "bar", "size": 2.6, "orient": "vertical"},
          "encoding": {
            "x": {"field": "i"},
            "y": {"field": "v", "type": "quantitative", "title": null, "scale": {"domain": [0, 423], "nice": false}, "axis": null},
            "color": {"condition": {"test": "datum.c >= datum.o", "value": "#bfe5d4"}, "value": "#fdbcc4"}
          }
        },
        {
          "encoding": {
            "y": {"type": "quantitative", "scale": {"domain": [0.0108, 0.6], "nice": false, "zero": false}}
          },
          "layer": [
            {
              "data": {"values": [{"edge": "left"}]},
              "mark": {"type": "rule", "color": "#e6e6e6", "strokeWidth": 1},
              "encoding": {"x": {"datum": -0.62}, "y": {"datum": 0.0108}, "y2": {"datum": 0.6}}
            },
            {
              "data": {"name": "bands"},
              "mark": {"type": "area", "color": "#26a69a", "opacity": 0.1, "interpolate": "monotone"},
              "encoding": {
                "x": {"field": "i"},
                "y": {"field": "u", "title": null,
                  "axis": {"orient": "right", "values": [0.1, 0.2, 0.3, 0.4, 0.5, 0.6], "format": "$.4f", "grid": true, "ticks": false, "domain": true, "labelPadding": 6, "title": null, "zindex": 0}},
                "y2": {"field": "d"}
              }
            },
            {
              "data": {"name": "bands"},
              "mark": {"type": "line", "color": "#35ab9f", "strokeWidth": 1, "interpolate": "monotone"},
              "encoding": {"x": {"field": "i"}, "y": {"field": "u", "title": null}}
            },
            {
              "data": {"name": "bands"},
              "mark": {"type": "line", "color": "#35ab9f", "strokeWidth": 1, "interpolate": "monotone"},
              "encoding": {"x": {"field": "i"}, "y": {"field": "d", "title": null}}
            },
            {
              "data": {"name": "bands"},
              "mark": {"type": "line", "color": "#b2dfdb", "strokeWidth": 1, "interpolate": "monotone"},
              "encoding": {"x": {"field": "i"}, "y": {"field": "m", "title": null}}
            },
            {
              "data": {"name": "ma50"},
              "mark": {"type": "line", "color": "#9a80cc", "strokeWidth": 1, "interpolate": "monotone"},
              "encoding": {"x": {"field": "i"}, "y": {"field": "v", "title": null}}
            },
            {
              "data": {"name": "ma200"},
              "mark": {"type": "line", "color": "#6a70c8", "strokeWidth": 1, "interpolate": "monotone"},
              "encoding": {"x": {"field": "i"}, "y": {"field": "v", "title": null}}
            },
            {
              "data": {"name": "candles"},
              "mark": {"type": "rule", "strokeWidth": 1},
              "encoding": {
                "x": {"field": "i"},
                "y": {"field": "l", "title": null},
                "y2": {"field": "h"},
                "color": {"condition": {"test": "datum.c >= datum.o", "value": "#4fb286"}, "value": "#ee3f58"}
              }
            },
            {
              "data": {"name": "candles"},
              "mark": {"type": "bar", "size": 2.6, "orient": "vertical"},
              "encoding": {
                "x": {"field": "i"},
                "y": {"field": "o", "title": null},
                "y2": {"field": "c"},
                "color": {"condition": {"test": "datum.c >= datum.o", "value": "#55b58c"}, "value": "#e4596d"}
              }
            },
            {
              "data": {"values": [{"i": 50, "p": 0.466, "label": "0.4660"}]},
              "mark": {"type": "point", "shape": "triangle-down", "filled": true, "size": 18, "color": "#111111", "yOffset": -10},
              "encoding": {"x": {"field": "i"}, "y": {"field": "p", "title": null}}
            },
            {
              "data": {"values": [{"i": 50, "p": 0.466, "label": "0.4660"}]},
              "mark": {"type": "text", "fontSize": 12, "color": "#111111", "align": "left", "baseline": "middle", "dx": 5, "dy": -11},
              "encoding": {"x": {"field": "i"}, "y": {"field": "p", "title": null}, "text": {"field": "label"}}
            },
            {
              "data": {"values": [{"i": 175, "p": 0.02727, "label": "0.02727"}]},
              "mark": {"type": "point", "shape": "triangle-up", "filled": true, "size": 18, "color": "#111111", "yOffset": 9},
              "encoding": {"x": {"field": "i"}, "y": {"field": "p", "title": null}}
            },
            {
              "data": {"values": [{"i": 175, "p": 0.02727, "label": "0.02727"}]},
              "mark": {"type": "text", "fontSize": 12, "color": "#111111", "align": "left", "baseline": "middle", "dx": 5, "dy": 7},
              "encoding": {"x": {"field": "i"}, "y": {"field": "p", "title": null}, "text": {"field": "label"}}
            },
            {
              "data": {"values": [{"tag": "last"}]},
              "mark": {"type": "rect", "color": "#f23038", "cornerRadius": 3},
              "encoding": {
                "x": {"datum": 320}, "x2": {"datum": 333.2},
                "y": {"datum": 0.1446}, "y2": {"datum": 0.1125}
              }
            },
            {
              "data": {"values": [{"p": 0.1282, "label": "0.1282"}]},
              "mark": {"type": "text", "fontSize": 12, "color": "#ffffff", "align": "center", "baseline": "middle", "dy": 0.5},
              "encoding": {"x": {"datum": 326.6}, "y": {"field": "p", "title": null}, "text": {"field": "label"}}
            }
          ]
        }
      ]
    },
    {
      "width": 1108,
      "height": 99,
      "encoding": {
        "x": {
          "type": "quantitative", "title": null,
          "scale": {"domain": [-0.62, 319.64], "nice": false, "zero": false},
          "axis": {"values": [115, 239], "grid": true, "labelExpr": "datum.value == 115 ? 'May' : 'Jun'", "ticks": false, "domain": true, "labelPadding": 5, "title": null, "labelFlush": false, "zindex": 0}
        },
        "y": {"type": "quantitative", "scale": {"domain": [-6.25, 117.5], "nice": false, "zero": false}}
      },
      "layer": [
        {
          "data": {"values": [{"edge": "left"}]},
          "mark": {"type": "rule", "color": "#e6e6e6", "strokeWidth": 1},
          "encoding": {"x": {"datum": -0.62}, "y": {"datum": -6.25}, "y2": {"datum": 117.5}}
        },
        {
          "data": {"values": [{"level": 70}, {"level": 50}, {"level": 30}]},
          "mark": {"type": "rule", "color": "#cde8f4", "strokeWidth": 1, "strokeDash": [6, 4]},
          "encoding": {
            "x": {"datum": -0.62}, "x2": {"datum": 319.64},
            "y": {"field": "level", "title": null,
              "axis": {"orient": "right", "values": [0, 100], "grid": false, "ticks": true, "tickColor": "#e0e0e0", "tickSize": 6, "domain": true, "labelPadding": 6, "title": null}}
          }
        },
        {
          "data": {"name": "rsi"},
          "mark": {"type": "line", "color": "#9c27b0", "strokeWidth": 1},
          "encoding": {"x": {"field": "i"}, "y": {"field": "r", "title": null}}
        },
        {
          "data": {"values": [{"tag": "rsi"}]},
          "mark": {"type": "rect", "color": "#8e1599", "cornerRadius": 3},
          "encoding": {
            "x": {"datum": 320}, "x2": {"datum": 331.5},
            "y": {"datum": 62.5}, "y2": {"datum": 33.75}
          }
        },
        {
          "data": {"values": [{"r": 47.89, "label": "47.89"}]},
          "mark": {"type": "text", "fontSize": 12, "color": "#ffffff", "align": "center", "baseline": "middle"},
          "encoding": {"x": {"datum": 325.8}, "y": {"field": "r", "title": null}, "text": {"field": "label"}}
        }
      ]
    }
  ]
}
